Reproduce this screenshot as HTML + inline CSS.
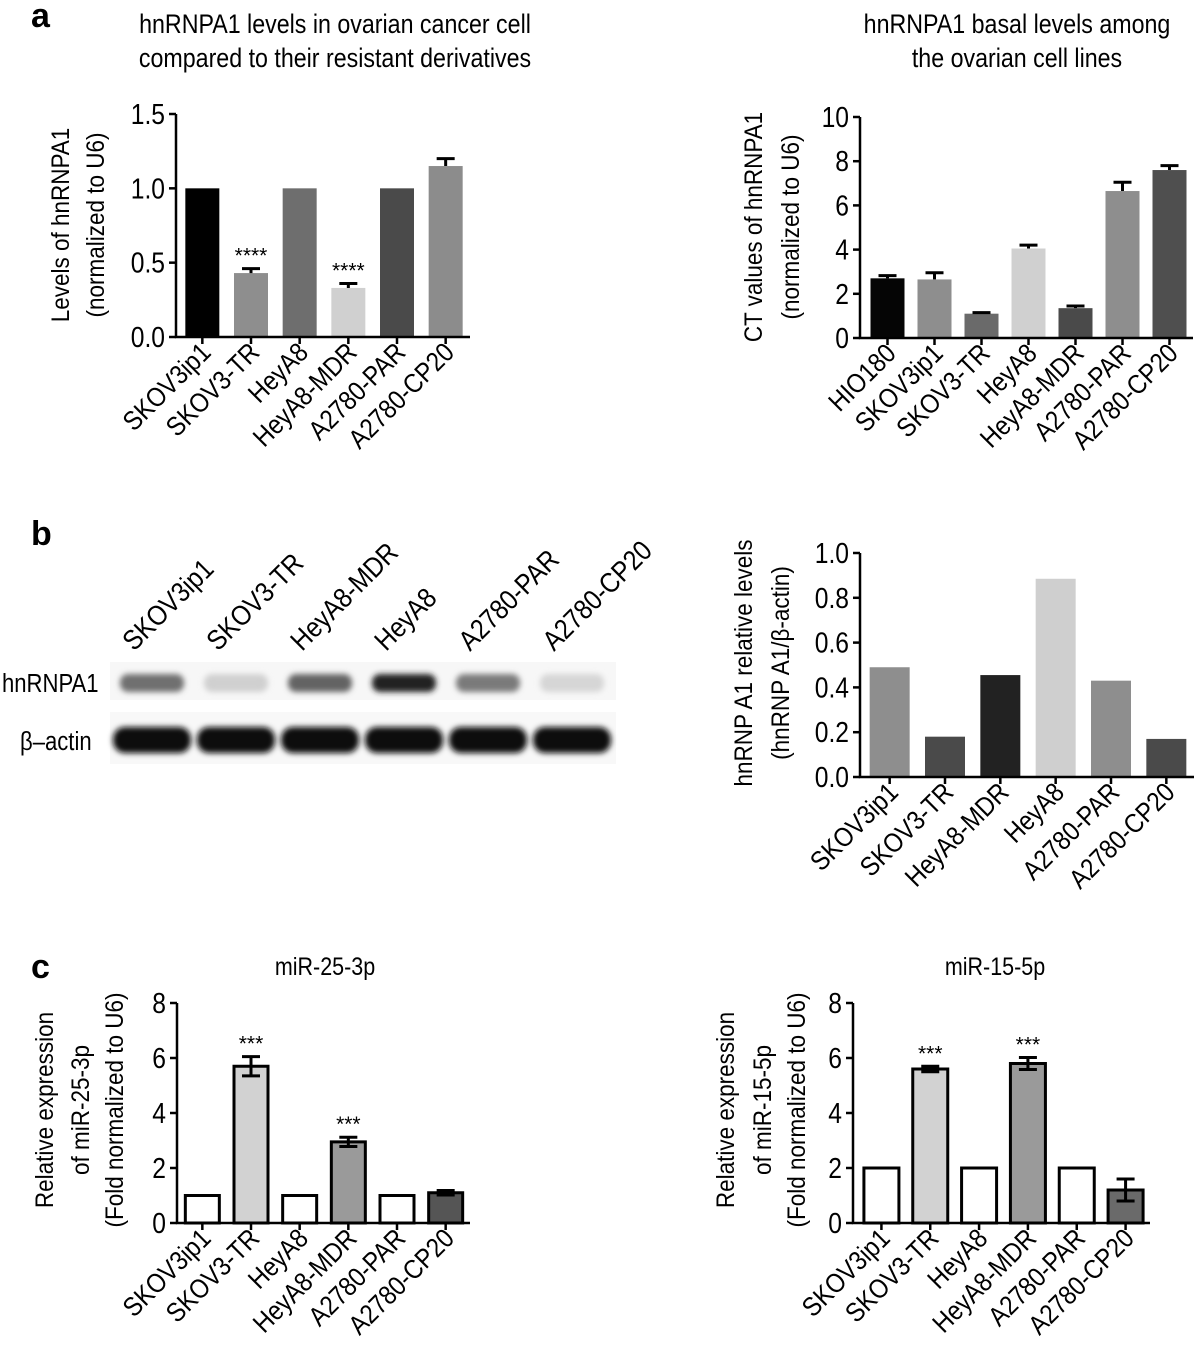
<!DOCTYPE html>
<html><head><meta charset="utf-8"><style>
html,body{margin:0;padding:0;background:#fff;}
svg{display:block;font-family:"Liberation Sans",Arial,sans-serif;}
</style></head><body>
<svg id="fig" width="1200" height="1355" viewBox="0 0 1200 1355" xmlns="http://www.w3.org/2000/svg">
<defs><filter id="blur" x="-20%" y="-50%" width="140%" height="200%"><feGaussianBlur stdDeviation="3"/></filter></defs>
<g id="static">
<text x="31" y="27" font-size="34" font-weight="bold">a</text>
<text x="31" y="545" font-size="34" font-weight="bold">b</text>
<text x="31" y="978" font-size="34" font-weight="bold">c</text>
<g transform="translate(335,0) scale(0.86,1)" font-size="27" text-anchor="middle">
<text x="0" y="33">hnRNPA1 levels in ovarian cancer cell</text>
<text x="0" y="67">compared to their resistant derivatives</text></g>
<g transform="translate(1017,0) scale(0.86,1)" font-size="27" text-anchor="middle">
<text x="0" y="33">hnRNPA1 basal levels among</text>
<text x="0" y="67">the ovarian cell lines</text></g>
<g transform="translate(325,0) scale(0.86,1)" font-size="25" text-anchor="middle"><text x="0" y="975">miR-25-3p</text></g>
<g transform="translate(995,0) scale(0.86,1)" font-size="25" text-anchor="middle"><text x="0" y="975">miR-15-5p</text></g>
</g>
<g id="blot"></g>
<g id="charts"></g>
</svg>
<script>
// ---- Chart a1 data ----
const a1Categories = ["SKOV3ip1","SKOV3-TR","HeyA8","HeyA8-MDR","A2780-PAR","A2780-CP20"];
const a1Values = [1.0, 0.43, 1.0, 0.33, 1.0, 1.15];
const a1Errors = [0, 0.03, 0, 0.03, 0, 0.05];
const a1Stars = ["", "****", "", "****", "", ""];
const a1Ticks = [0, 0.5, 1.0, 1.5];
const a1TickLabels = ["0.0","0.5","1.0","1.5"];
// ---- Chart a2 data ----
const a2Categories = ["HIO180","SKOV3ip1","SKOV3-TR","HeyA8","HeyA8-MDR","A2780-PAR","A2780-CP20"];
const a2Values = [2.7, 2.65, 1.1, 4.05, 1.35, 6.65, 7.6];
const a2Errors = [0.12, 0.3, 0.05, 0.15, 0.1, 0.4, 0.2];
const a2Ticks = [0, 2, 4, 6, 8, 10];
const a2TickLabels = ["0","2","4","6","8","10"];
// ---- Chart b2 data ----
const b2Categories = ["SKOV3ip1","SKOV3-TR","HeyA8-MDR","HeyA8","A2780-PAR","A2780-CP20"];
const b2Values = [0.49, 0.18, 0.455, 0.885, 0.43, 0.17];
const b2Ticks = [0, 0.2, 0.4, 0.6, 0.8, 1.0];
const b2TickLabels = ["0.0","0.2","0.4","0.6","0.8","1.0"];
// ---- Chart c1 data ----
const c1Categories = ["SKOV3ip1","SKOV3-TR","HeyA8","HeyA8-MDR","A2780-PAR","A2780-CP20"];
const c1Values = [1, 5.7, 1, 2.95, 1, 1.1];
const c1Errors = [0, 0.35, 0, 0.17, 0, 0.08];
const c1Stars = ["", "***", "", "***", "", ""];
const c1Ticks = [0, 2, 4, 6, 8];
const c1TickLabels = ["0","2","4","6","8"];
// ---- Chart c2 data ----
const c2Categories = ["SKOV3ip1","SKOV3-TR","HeyA8","HeyA8-MDR","A2780-PAR","A2780-CP20"];
const c2Values = [2, 5.6, 2, 5.8, 2, 1.2];
const c2Errors = [0, 0.1, 0, 0.22, 0, 0.4];
const c2Stars = ["", "***", "", "***", "", ""];
const c2Ticks = [0, 2, 4, 6, 8];
const c2TickLabels = ["0","2","4","6","8"];
// ---- Blot data (band intensity 0..1) ----
const blotLanes = ["SKOV3ip1","SKOV3-TR","HeyA8-MDR","HeyA8","A2780-PAR","A2780-CP20"];
const blotA1 = [0.6, 0.15, 0.65, 0.95, 0.55, 0.12];
const blotActin = [1, 1, 1, 1, 1, 1];

const NS = "http://www.w3.org/2000/svg";
function mk(tag, attrs, parent){const e=document.createElementNS(NS,tag);for(const k in attrs)e.setAttribute(k,attrs[k]);if(parent)parent.appendChild(e);return e;}

function chart(id, o){
  const g = mk("g",{},document.getElementById("charts"));
  
  
  const yMax = o.ticks[o.ticks.length-1];
  const y = v => o.y0 - (v / yMax) * (o.y0 - o.yTop);
  const n = o.cats.length;
  const x = i => o.x1 + (i + 0.5) * (o.xEnd - o.x1) / n;
  o.vals.forEach((v,i)=>{
    const r = mk("rect",{x:x(i)-o.bw/2,y:y(v),width:o.bw,height:o.y0-y(v),fill:o.fills[i],stroke:o.outline?"#000":"none","stroke-width":o.outline?3:0},g);
    
    
    if(o.errs && o.errs[i]>0){
      const t=y(v+o.errs[i]), b=o.twoSided?y(v-o.errs[i]):y(v);
      const eb = mk("path",{d:`M${x(i)} ${b}V${t}M${x(i)-9} ${t}H${x(i)+9}`+(o.twoSided?`M${x(i)-9} ${b}H${x(i)+9}`:""),stroke:"#000","stroke-width":3,fill:"none"},g);
      
      
    }
    if(o.stars && o.stars[i]){
      const st = mk("text",{x:x(i),y:y(v+o.errs[i])-6,"font-size":21,"text-anchor":"middle"},g);
      st.textContent=o.stars[i];
      
      
    }
  });
  const ax = mk("path",{d:`M${o.x0} ${o.yTop}V${o.y0}H${o.xEnd}`,stroke:"#000","stroke-width":2.5,fill:"none"},g);
  
  
  o.ticks.forEach((t,k)=>{
    mk("path",{d:`M${o.x0-7} ${y(t)}H${o.x0}`,stroke:"#000","stroke-width":2.5},g);
    const tl = mk("text",{transform:`translate(${o.x0-11},${y(t)+10}) scale(0.85,1)`,"font-size":o.tfs||29,"text-anchor":"end"},g);
    tl.textContent=o.tickLabels[k];
    
    
  });
  o.cats.forEach((c,i)=>{
    mk("path",{d:`M${x(i)} ${o.y0}V${o.y0+7}`,stroke:"#000","stroke-width":2.5},g);
    const cl = mk("text",{transform:`translate(${x(i)+10},${o.y0+17}) rotate(-45) scale(0.88,1)`,"font-size":o.cfs||27,"text-anchor":"end"},g);
    cl.textContent=c;
    
    
  });
  const tg = mk("g",{transform:`translate(0,${o.tyc}) rotate(-90)`,"font-size":o.yfs||25,"text-anchor":"middle"},g);
  
  
  o.title.forEach((s,k)=>{ const t=mk("text",{x:0,y:o.tx[k]+9,transform:"scale(0.9,1)"},tg); t.textContent=s; });
}

chart("chart-a1",{cats:a1Categories,vals:a1Values,errs:a1Errors,stars:a1Stars,ticks:a1Ticks,tickLabels:a1TickLabels,
  x0:176,x1:178,xEnd:470,y0:337,yTop:114,bw:34,fills:["#000","#8e8e8e","#6e6e6e","#d0d0d0","#4a4a4a","#8c8c8c"],
  title:["Levels of hnRNPA1","(normalized to U6)"],tx:[60,95],tyc:225});
chart("chart-a2",{cats:a2Categories,vals:a2Values,errs:a2Errors,ticks:a2Ticks,tickLabels:a2TickLabels,
  x0:860,x1:864,xEnd:1193,y0:338,yTop:117,bw:34,fills:["#050505","#8e8e8e","#6a6a6a","#d0d0d0","#4a4a4a","#8e8e8e","#4f4f4f"],
  title:["CT values of hnRNPA1","(normalized to U6)"],tx:[753,790],tyc:227});
chart("chart-b2",{cats:b2Categories,vals:b2Values,ticks:b2Ticks,tickLabels:b2TickLabels,
  x0:860,x1:862,xEnd:1194,y0:777,yTop:553,bw:40,fills:["#8e8e8e","#4a4a4a","#222","#cfcfcf","#8e8e8e","#4a4a4a"],
  title:["hnRNP A1 relative levels","(hnRNP A1/β-actin)"],tx:[743,780],tyc:663});
chart("chart-c1",{cats:c1Categories,vals:c1Values,errs:c1Errors,stars:c1Stars,ticks:c1Ticks,tickLabels:c1TickLabels,twoSided:true,outline:true,
  x0:177,x1:178,xEnd:470,y0:1223,yTop:1003,bw:34,fills:["#fff","#d2d2d2","#fff","#9a9a9a","#fff","#555"],
  title:["Relative expression","of miR-25-3p","(Fold normalized to U6)"],tx:[44,80,114],tyc:1110});
chart("chart-c2",{cats:c2Categories,vals:c2Values,errs:c2Errors,stars:c2Stars,ticks:c2Ticks,tickLabels:c2TickLabels,twoSided:true,outline:true,
  x0:853,x1:857,xEnd:1150,y0:1223,yTop:1003,bw:35,fills:["#fff","#d2d2d2","#fff","#9a9a9a","#fff","#6a6a6a"],
  title:["Relative expression","of miR-15-5p","(Fold normalized to U6)"],tx:[725,762,796],tyc:1110});

// ---- Western blot ----
(function(){
  const b = document.getElementById("blot");
  mk("rect",{x:110,y:662,width:506,height:38,fill:"#f7f7f7"},b);
  mk("rect",{x:110,y:712,width:506,height:52,fill:"#f8f8f8"},b);
  const lx0 = 112, lw = 84;
  blotLanes.forEach((name,i)=>{
    const cx = lx0 + lw*i + lw/2 - 2;
    const g = Math.round(240 - 215*blotA1[i]);
    const band = mk("rect",{x:cx-32,y:674,width:64,height:18,rx:8,fill:`rgb(${g},${g},${g})`,filter:"url(#blur)"},b);
    
    
    const ga = Math.round(240 - 225*blotActin[i]);
    const ab = mk("rect",{x:cx-39,y:727,width:78,height:26,rx:12,fill:`rgb(${ga},${ga},${ga})`,filter:"url(#blur)"},b);
    
    
    const lt = mk("text",{transform:`translate(${cx-18},${652}) rotate(-45) scale(0.88,1)`,"font-size":28},b);
    lt.textContent = name;
    
    
  });
  const r1 = mk("text",{transform:"translate(2,692) scale(0.85,1)","font-size":26},b);
  r1.textContent="hnRNPA1";
  
  
  const r2 = mk("text",{transform:"translate(20,750) scale(0.85,1)","font-size":26},b);
  r2.textContent="β–actin";
  
  
})();
</script>
</body></html>
